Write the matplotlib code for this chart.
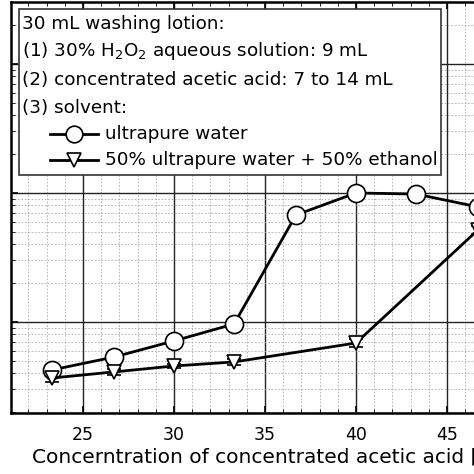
import matplotlib
matplotlib.use("Agg")
import matplotlib.pyplot as plt
from matplotlib.lines import Line2D
from matplotlib.patches import Rectangle
from matplotlib.ticker import MultipleLocator, LogLocator, NullFormatter

x_water = [23.3, 26.7, 30.0, 33.3, 36.7, 40.0, 43.3, 46.7]
y_water = [4.25, 5.35, 7.13, 9.65, 67.5, 100, 98, 78]
x_eth = [23.3, 26.7, 30.0, 33.3, 40.0, 46.7]
y_eth = [3.68, 4.10, 4.56, 4.9, 6.87, 51.7]
err_water = [0.35, 0.45, 0.4, 0.8, 6, 6, 6, 5]
err_eth = [0.25, 0.2, 0.2, 0.25, 0.5, 4]

fig = plt.figure(figsize=(4.74, 4.74), dpi=100)
W = 474
ax = fig.add_axes([11/W, 61/W, 527/W, 411/W])
ax.set_yscale('log')
ax.set_xlim(21.04, 50)
ax.set_ylim(1.97, 3020)

ax.errorbar(x_water, y_water, yerr=err_water, color='black', lw=2, marker='o', ms=13,
            mfc='white', mec='black', mew=1.2, capsize=5, elinewidth=1, zorder=5)
ax.errorbar(x_eth, y_eth, yerr=err_eth, color='black', lw=2, marker='v', ms=10,
            mfc='white', mec='black', mew=1.2, capsize=5, elinewidth=1, zorder=5)

ax.xaxis.set_major_locator(MultipleLocator(5))
ax.xaxis.set_minor_locator(MultipleLocator(1))
ax.yaxis.set_major_locator(LogLocator(base=10))
ax.yaxis.set_minor_locator(LogLocator(base=10, subs=range(2, 10)))
ax.yaxis.set_major_formatter(NullFormatter())
ax.yaxis.set_minor_formatter(NullFormatter())
ax.grid(True, which='major', color='#222222', lw=1.0)
ax.grid(True, which='minor', color='#aaaaaa', lw=0.6, ls=(0, (2, 2)))
ax.tick_params(which='both', direction='in', top=True, right=True)
ax.tick_params(which='major', length=5, width=1.2)
ax.tick_params(which='minor', length=3)
ax.tick_params(axis='x', labelsize=12.5, pad=9)
for s in ax.spines.values():
    s.set_linewidth(1.8)
ax.set_xlabel('Concerntration of concentrated acetic acid [Volume %]', fontsize=14.5, ha='left')
ax.xaxis.set_label_coords((32 - 11) / 527, -0.085)

def ax_xy(px, py):
    return ((px - 11) / 527, (413 - py) / 411)
x0, y0 = ax_xy(19, 175)
x1, y1 = ax_xy(441, 9)
ax.add_patch(Rectangle((x0, y0), x1 - x0, y1 - y0, transform=ax.transAxes,
                       facecolor='white', edgecolor='#333333', lw=1.2, zorder=10))
lines = [(24, '30 mL washing lotion:'),
         (51, '(1) 30% H$_2$O$_2$ aqueous solution: 9 mL'),
         (80, '(2) concentrated acetic acid: 7 to 14 mL'),
         (108, '(3) solvent:')]
for py, t in lines:
    tx, ty = ax_xy(22, py)
    ax.text(tx, ty, t, transform=ax.transAxes, fontsize=13.2, va='center', ha='left', zorder=11)
for py, mk, ms, t in [(134, 'o', 12, 'ultrapure water'), (160, 'v', 10, '50% ultrapure water + 50% ethanol')]:
    ax0, ay = ax_xy(50, py)
    ax1, _ = ax_xy(98, py)
    am, _ = ax_xy(74, py)
    ax.add_line(Line2D([ax0, ax1], [ay, ay], transform=ax.transAxes, color='black', lw=2, zorder=11))
    ax.add_line(Line2D([am], [ay], transform=ax.transAxes, marker=mk, ms=ms, mfc='white',
                       mec='black', mew=1.2, zorder=12))
    tx, _ = ax_xy(105, py)
    ax.text(tx, ay, t, transform=ax.transAxes, fontsize=13.2, va='center', ha='left', zorder=11)

fig.savefig('out.png', dpi=100)
